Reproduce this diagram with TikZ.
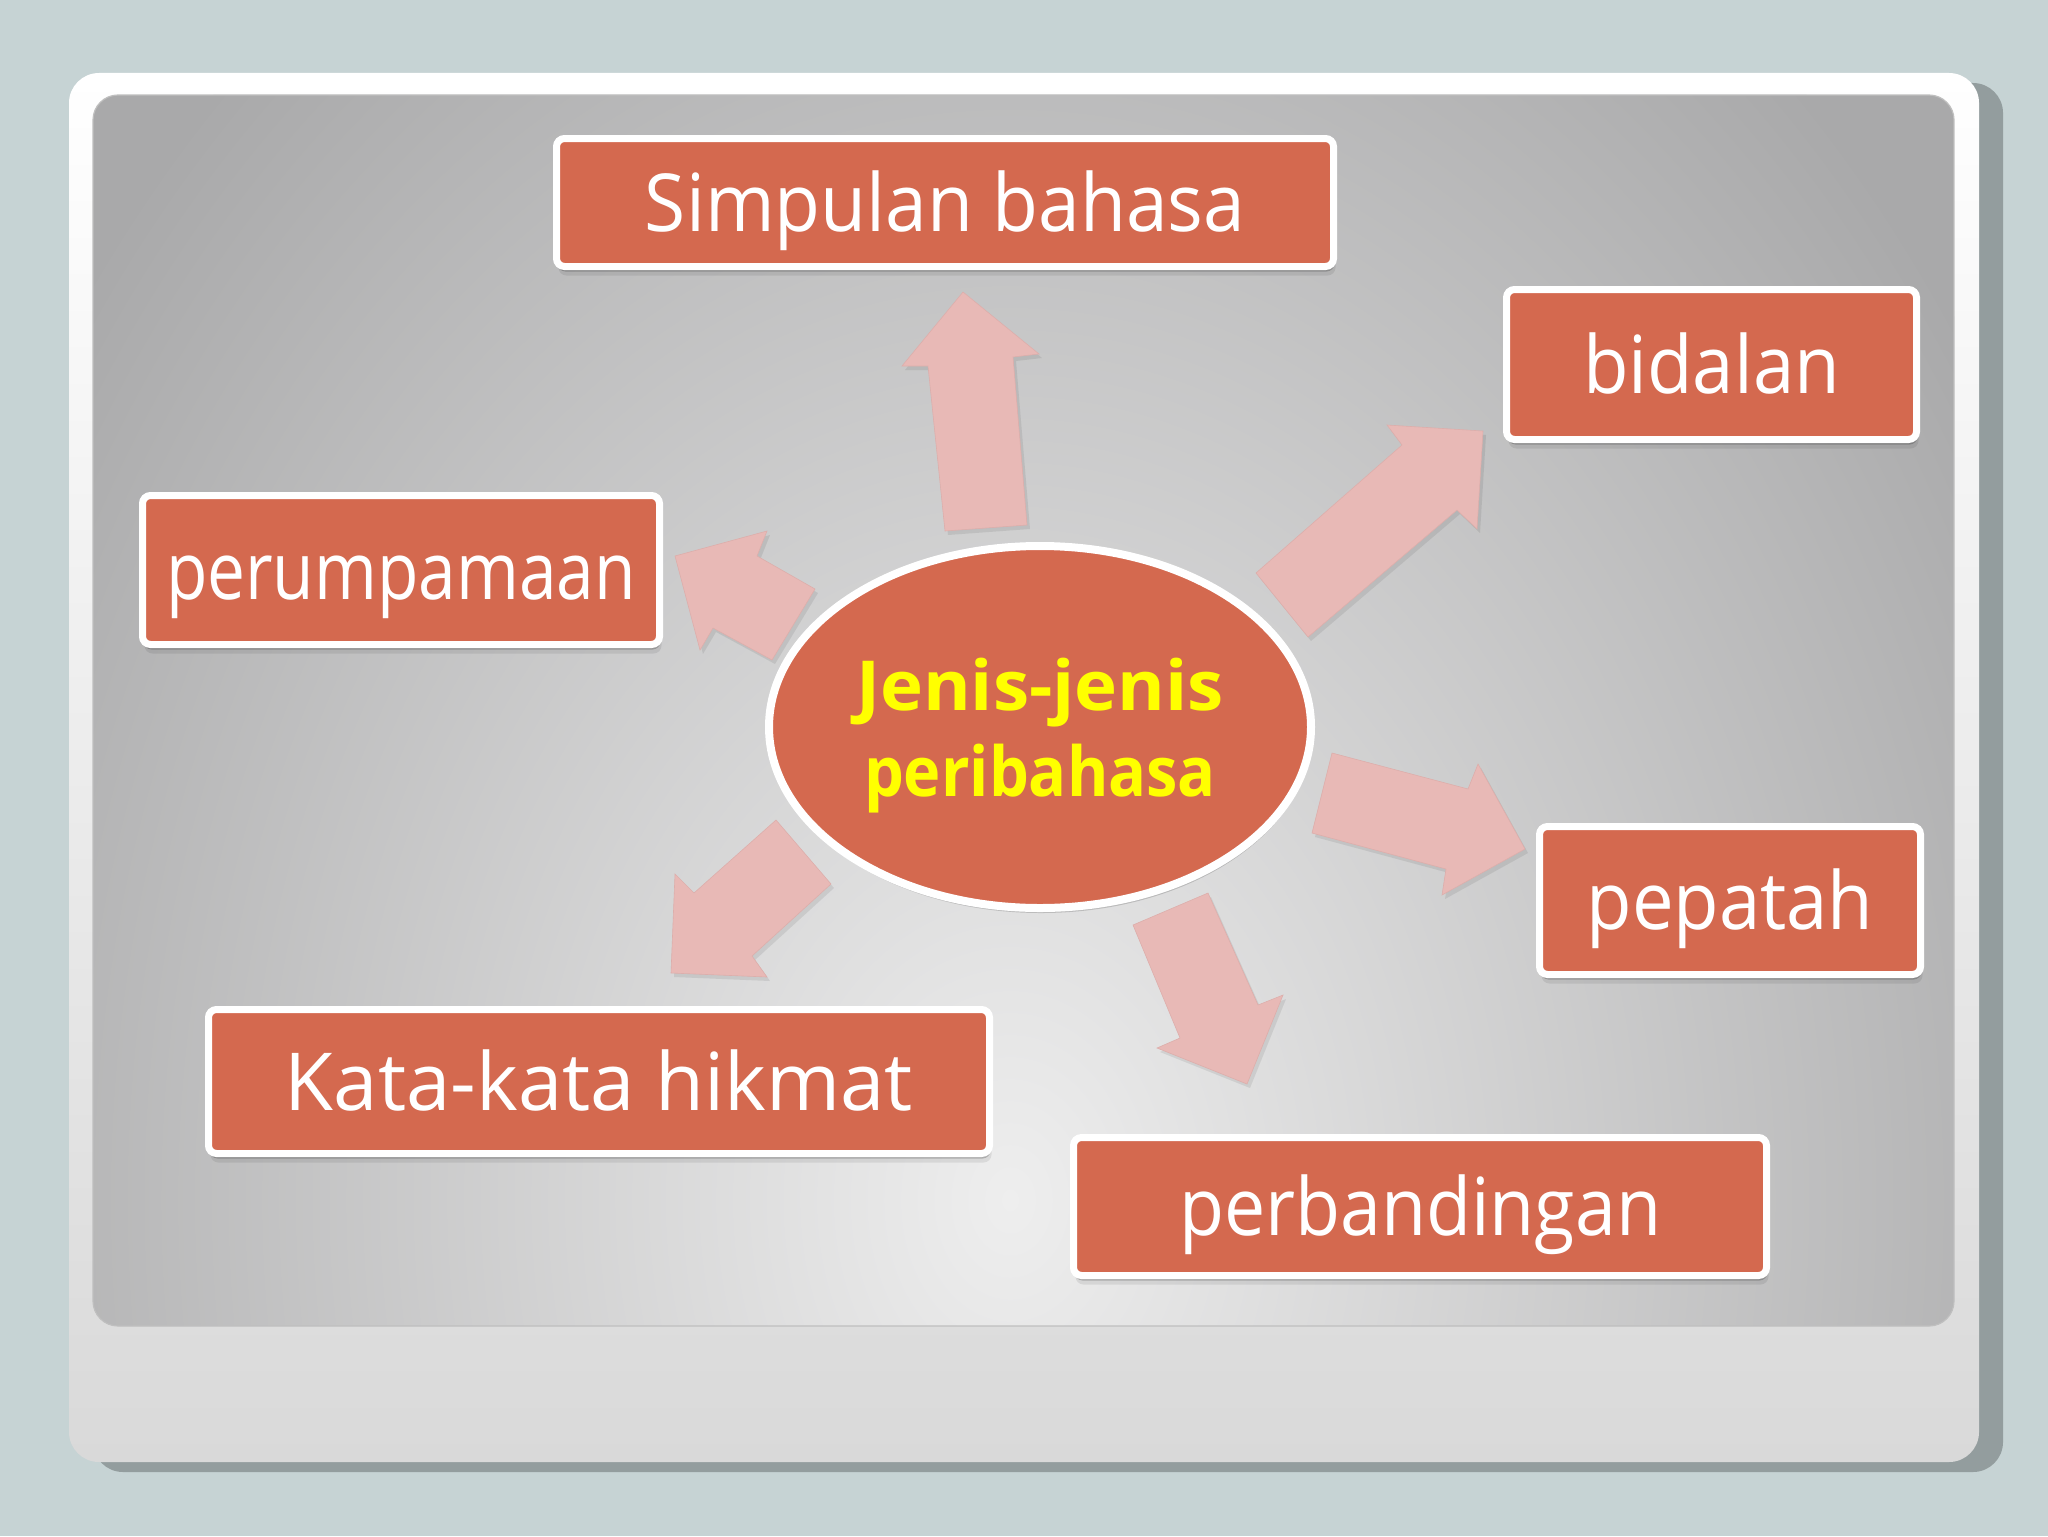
\documentclass[tikz,border=0pt]{standalone}
\usepackage{fontspec}
\setmainfont{Open Sans}
\usepackage{graphicx}
\usetikzlibrary{shapes.geometric,shadows}
\definecolor{bgcol}{HTML}{C6D3D4}
\definecolor{cardshadow}{HTML}{939D9E}
\definecolor{cardbottom}{HTML}{D9D9D9}
\definecolor{coral}{HTML}{D4694F}
\definecolor{arrowpink}{HTML}{E8B9B6}
\definecolor{arrowedge}{HTML}{DDAEAB}
\definecolor{paneldark}{HTML}{A9A9AA}
\definecolor{panellight}{HTML}{EEEEEE}
\definecolor{centeryellow}{HTML}{FFFF00}
\newcommand{\fitw}[2]{\resizebox{#1}{\height}{#2}}
\newcommand{\barrow}[1]{%
  \fill[arrowshade, xshift=1.5pt, yshift=-2pt] #1 -- cycle;
  \draw[blockarrow] #1 -- cycle;}
\begin{document}
\begin{tikzpicture}[x=0.5pt,y=-0.5pt,
  box/.style={rectangle, rounded corners=4pt, fill=coral, draw=white, line width=3.5pt,
    text=white, inner sep=0pt, text height=42pt, text depth=13pt,
    font=\fontsize{40}{48}\selectfont,
    drop shadow={shadow xshift=0.5pt, shadow yshift=-2.5pt, opacity=0.20, fill=black},
    drop shadow={shadow xshift=1pt, shadow yshift=-4.5pt, opacity=0.08, fill=black}},
  blockarrow/.style={fill=arrowpink, draw=arrowedge, line width=0.3pt, line join=miter},
  arrowshade/.style={fill=black, opacity=0.08}]
\useasboundingbox (0,0) rectangle (2048,1536);
\fill[bgcol] (0,0) rectangle (2048,1536);
% card and its shadow
\fill[cardshadow, rounded corners=15pt] (93,83) rectangle (2003,1472);
\shade[top color=white, bottom color=cardbottom, rounded corners=15pt] (69,73) rectangle (1979,1462);
% inner panel
\begin{scope}
  \clip[rounded corners=12.5pt] (93,95) rectangle (1954,1326);
  \fill[paneldark] (93,95) rectangle (1954,1326);
  \shade[inner color=panellight, outer color=paneldark] (1010,1200) ellipse [x radius=580pt, y radius=760pt];
\end{scope}
\draw[gray!50, line width=0.6pt, rounded corners=12.5pt] (93,95) rectangle (1954,1326);
% block arrows
\barrow{(963,292) -- (1039,354) -- (1013,357) -- (1027,525) -- (945,531) -- (928,366) -- (902,366)}
\barrow{(675,556) -- (767,531) -- (757,556) -- (815,589) -- (772,660) -- (713,628) -- (700,650)}
\barrow{(1483,431) -- (1387,425) -- (1402,445) -- (1256,573) -- (1308,637) -- (1457,510) -- (1477,529)}
\barrow{(1332,753) -- (1468,789) -- (1478,764) -- (1525,849) -- (1442,895) -- (1446,869) -- (1312,833)}
\barrow{(1133,925) -- (1208,893) -- (1258,1005) -- (1283,995) -- (1247,1084) -- (1157,1048) -- (1180,1038)}
\barrow{(776,820) -- (831,884) -- (752,956) -- (767,977) -- (671,973) -- (675,874) -- (694,893)}
% boxes
\node[box, minimum width=388.5pt, minimum height=64pt] (simpulan) at (945,202.5) {\fitw{300pt}{Simpulan bahasa}};
\node[box, minimum width=205pt, minimum height=75pt] (bidalan) at (1711.5,364.5) {\fitw{128.5pt}{bidalan}};
\node[box, minimum width=258.5pt, minimum height=74.5pt] (perumpamaan) at (401,570) {\fitw{235pt}{perumpamaan}};
\node[box, minimum width=190.5pt, minimum height=74pt] (pepatah) at (1730,900.5) {\fitw{143.5pt}{pepatah}};
\node[box, minimum width=390.5pt, minimum height=72pt] (kata) at (599,1081.5) {\fitw{314pt}{Kata-kata hikmat}};
\node[box, minimum width=346.5pt, minimum height=69pt] (perbandingan) at (1420,1206.5) {\fitw{241pt}{perbandingan}};
% centre ellipse
\node[ellipse, fill=coral, draw=white, line width=4pt, minimum width=271pt, minimum height=181pt,
  inner sep=0pt,
  drop shadow={shadow xshift=0.5pt, shadow yshift=-2.5pt, opacity=0.16, fill=black}]
  (centre) at (1040,727) {};
\node[text=centeryellow, align=center, inner sep=0pt, font=\bfseries\fontsize{34.5}{43}\selectfont]
  (centretext) at (1040,736) {\fitw{184pt}{Jenis-jenis}\\\fitw{176pt}{peribahasa}};
\end{tikzpicture}
\end{document}
